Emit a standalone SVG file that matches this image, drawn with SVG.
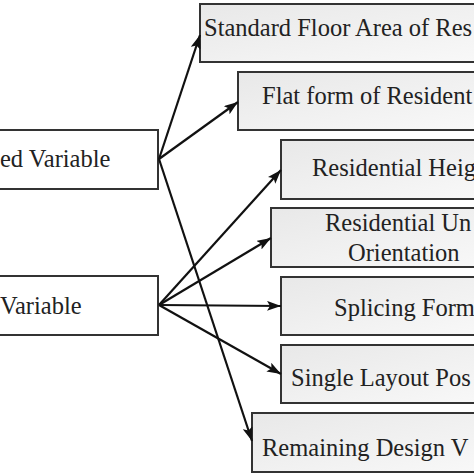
<svg xmlns="http://www.w3.org/2000/svg" width="474" height="474" viewBox="0 0 474 474">
<defs>
<linearGradient id="g" x1="0" y1="0" x2="1" y2="1">
<stop offset="0" stop-color="#e8e8e8"/>
<stop offset="1" stop-color="#f9f9f9"/>
</linearGradient>
<marker id="ah" viewBox="0 0 14 10" refX="14" refY="5" markerWidth="14" markerHeight="10" markerUnits="userSpaceOnUse" orient="auto">
<path d="M0,0 L14,5 L0,10 L3,5 Z" fill="#111"/>
</marker>
<style>
.box{fill:url(#g);stroke:#333;stroke-width:2}
.lbox{fill:#fff;stroke:#333;stroke-width:2}
.c line{stroke:#111;stroke-width:2.2;marker-end:url(#ah)}
</style>
</defs>
<rect width="474" height="474" fill="#fff"/>
<g id="left1"><rect class="lbox" x="-100" y="130" width="258" height="59"/><text x="0" y="167" font-family="'Liberation Serif'" font-size="24.5" fill="#222">ed Variable</text></g>
<g id="left2"><rect class="lbox" x="-100" y="276" width="258" height="59"/><text x="0" y="314" font-family="'Liberation Serif'" font-size="24.5" fill="#222">Variable</text></g>
<g id="n1"><rect class="box" x="200" y="4" width="300" height="58"/><text x="204" y="36" font-family="'Liberation Serif'" font-size="24.5" fill="#222">Standard Floor Area of Res</text></g>
<g id="n2"><rect class="box" x="238" y="72" width="260" height="58"/><text x="262" y="104" font-family="'Liberation Serif'" font-size="24.5" fill="#222">Flat form of Resident</text></g>
<g id="n3"><rect class="box" x="281" y="140" width="220" height="59"/><text x="312" y="176" font-family="'Liberation Serif'" font-size="24.5" fill="#222">Residential Heig</text></g>
<g id="n4"><rect class="box" x="271" y="208" width="230" height="59"/><text x="325" y="231" font-family="'Liberation Serif'" font-size="24.5" fill="#222">Residential Un</text><text x="348" y="261" font-family="'Liberation Serif'" font-size="24.5" fill="#222">Orientation</text></g>
<g id="n5"><rect class="box" x="281" y="277" width="220" height="58"/><text x="334" y="316" font-family="'Liberation Serif'" font-size="24.5" fill="#222">Splicing Form</text></g>
<g id="n6"><rect class="box" x="281" y="345" width="220" height="58"/><text x="291" y="386" font-family="'Liberation Serif'" font-size="24.5" fill="#222">Single Layout Pos</text></g>
<g id="n7"><rect class="box" x="252" y="413" width="250" height="59"/><text x="262" y="456" font-family="'Liberation Serif'" font-size="24.5" fill="#222">Remaining Design V</text></g>
<g class="c" id="connectors">
<line x1="159" y1="159" x2="200" y2="35"/>
<line x1="159" y1="159" x2="238" y2="102"/>
<line x1="159" y1="159" x2="252" y2="441"/>
<line x1="159" y1="305" x2="281" y2="170"/>
<line x1="159" y1="305" x2="271" y2="238"/>
<line x1="159" y1="305" x2="281" y2="306"/>
<line x1="159" y1="305" x2="281" y2="374"/>
</g>
</svg>
